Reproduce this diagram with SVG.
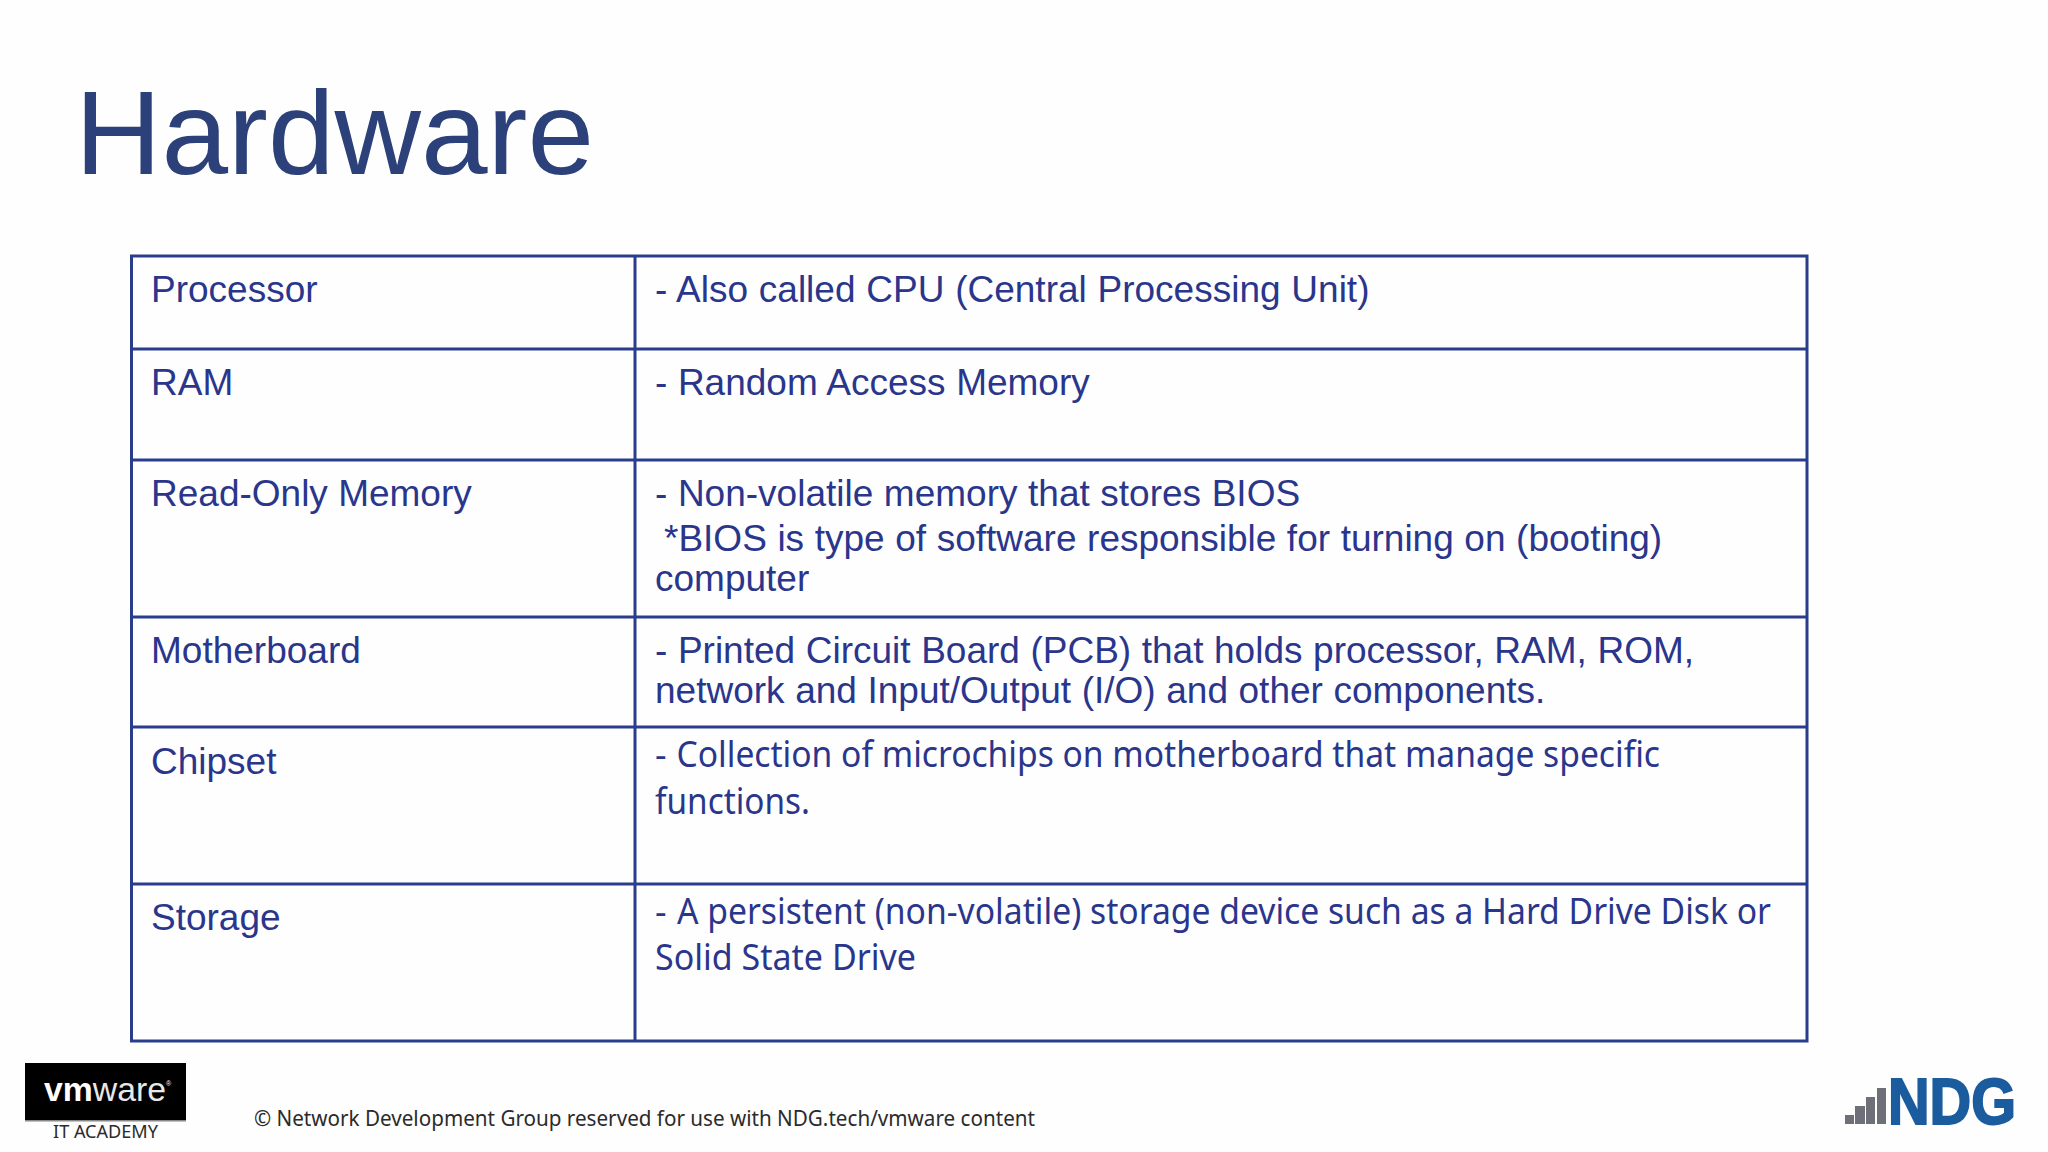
<svg xmlns="http://www.w3.org/2000/svg" width="2048" height="1152" viewBox="0 0 2048 1152">
<style>
text{font-family:"Liberation Sans",Arial,sans-serif}
.t{font-size:37px;fill:#2a368c}
.w{word-spacing:.3px}
.n{font-family:"Noto Sans","Open Sans",sans-serif;font-size:36px;fill:#2a368c}
.l{stroke:#2a3c8c;stroke-width:3;fill:none}
.f{font-family:"Noto Sans","Open Sans",sans-serif;fill:#2b2b2b}
.b{fill:#6d7078}
</style>
<rect width="2048" height="1152" fill="#fefefe"/>
<text id="title" x="75" y="174" font-size="119" fill="#2c4079" textLength="519" lengthAdjust="spacingAndGlyphs">Hardware</text>
<g id="connectors">
<rect class="l" x="131.500" y="256" width="1675.500" height="785"/>
<path class="l" d="M635 256V1041M131 349H1807M131 460H1807M131 617H1807M131 727H1807M131 884H1807"/>
</g>
<g id="row-processor"><text class="t" x="151" y="302">Processor</text><text class="t" x="655" y="302" word-spacing=".5">- Also called CPU (Central Processing Unit)</text></g>
<g id="row-ram"><text class="t" x="151" y="395">RAM</text><text class="t w" x="655" y="395">- Random Access Memory</text></g>
<g id="row-rom"><text class="t" x="151" y="506">Read-Only Memory</text><text class="t w" x="655" y="506">- Non-volatile memory that stores BIOS</text><text class="t w" x="664" y="551">*BIOS is type of software responsible for turning on (booting)</text><text class="t" x="655" y="591">computer</text></g>
<g id="row-motherboard"><text class="t" x="151" y="663">Motherboard</text><text class="t w" x="655" y="663">- Printed Circuit Board (PCB) that holds processor, RAM, ROM,</text><text class="t w" x="655" y="703">network and Input/Output (I/O) and other components.</text></g>
<g id="row-chipset"><text class="t" x="151" y="774">Chipset</text><text class="n" y="767"><tspan x="655">- </tspan><tspan x="676.500" textLength="983.500" lengthAdjust="spacingAndGlyphs">Collection of microchips on motherboard that manage specific</tspan></text><text class="n" x="655" y="814" textLength="155" lengthAdjust="spacingAndGlyphs">functions.</text></g>
<g id="row-storage"><text class="t" x="151" y="930">Storage</text><text class="n" y="924"><tspan x="655">- </tspan><tspan x="677" textLength="1094" lengthAdjust="spacingAndGlyphs">A persistent (non-volatile) storage device such as a Hard Drive Disk or</tspan></text><text class="n" x="655" y="970" textLength="261" lengthAdjust="spacingAndGlyphs">Solid State Drive</text></g>
<g id="vmware-logo"><rect x="25" y="1063" width="161" height="57" fill="#000"/><rect x="25" y="1120" width="161" height="1.500" fill="#888"/><text x="44" y="1101" font-size="33" fill="#fff" textLength="122" lengthAdjust="spacingAndGlyphs"><tspan font-weight="700">vm</tspan><tspan fill="#e8e8e8">ware</tspan></text><text x="166" y="1086" font-size="7" fill="#fff">®</text><text class="f" x="53" y="1138" font-size="18" textLength="105" lengthAdjust="spacingAndGlyphs">IT ACADEMY</text></g>
<text id="footer" class="f" x="254" y="1126" font-size="22" textLength="781" lengthAdjust="spacingAndGlyphs">© Network Development Group reserved for use with NDG.tech/vmware content</text>
<g id="ndg-logo"><rect class="b" x="1845" y="1115" width="9" height="9"/><rect class="b" x="1855" y="1106" width="10" height="18"/><rect class="b" x="1866" y="1097" width="9" height="27"/><rect class="b" x="1877" y="1088" width="9" height="36"/><text x="1888" y="1124" font-size="64" font-weight="700" fill="#1a5c9e" textLength="128" lengthAdjust="spacingAndGlyphs" stroke="#1a5c9e" stroke-width="2">NDG</text></g>
</svg>
